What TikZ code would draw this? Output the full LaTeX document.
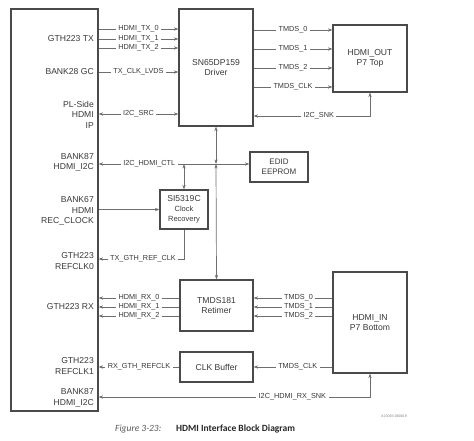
\documentclass[tikz,border=0pt]{standalone}
\usepackage{fontspec}
\setmainfont{Liberation Sans}
\newfontfamily\capfont{Carlito}
\usetikzlibrary{arrows.meta,calc}

\definecolor{linegray}{HTML}{6E6E6E}
\definecolor{boxgray}{HTML}{4A4A4A}
\definecolor{textgray}{HTML}{383838}

\tikzset{
  blk/.style={draw=boxgray, line width=1.1pt, align=center, inner sep=1pt,
    font=\fontsize{8.6}{10.5}\selectfont, text=textgray},
  sig/.style={draw=linegray, line width=0.7pt, ->},
  lbl/.style={fill=white, inner xsep=2.5pt, inner ysep=0.4pt,
    font=\fontsize{7.3}{8}\selectfont, text=textgray},
  side/.style={anchor=east, align=right, inner sep=0pt,
    font=\fontsize{8.6}{10.5}\selectfont, text=textgray},
}

\begin{document}
\begin{tikzpicture}[x=1pt, y=-1pt, >={Stealth[length=4.5pt,width=3.2pt]}]
    % 图幅
    \useasboundingbox (0,0) rectangle (474,441);

    % 各个模块
    \node[blk, minimum width=87pt, minimum height=402pt] (fpga) at (54.5,210) {};
    \node[blk, minimum width=74pt, minimum height=117pt] (drv) at (216,67.5) {SN65DP159\\Driver};
    \node[blk, minimum width=74pt, minimum height=67pt] (hout) at (370,58.5) {HDMI\_OUT\\P7 Top};
    \node[blk, minimum width=58pt, minimum height=30pt,
      font=\fontsize{8}{10.5}\selectfont] (edid) at (279,167) {EDID\\EEPROM};
    \node[blk, minimum width=48pt, minimum height=39pt] (si) at (184,209.5)
      {SI5319C\\[-1pt]{\fontsize{7.5}{10}\selectfont Clock}\\{\fontsize{7.5}{10}\selectfont Recovery}};
    \node[blk, minimum width=73pt, minimum height=51pt] (ret) at (216.5,305.5) {TMDS181\\Retimer};
    \node[blk, minimum width=73pt, minimum height=30pt] (clkbuf) at (216.5,367) {CLK Buffer};
    \node[blk, minimum width=74pt, minimum height=101pt] (hin) at (370,322.5) {HDMI\_IN\\P7 Bottom};

    % FPGA 侧的引脚标注
    \node[side] (gthtx) at (94,39) {GTH223 TX};
    \node[side] (bank28) at (94,72) {BANK28 GC};
    \node[side] (plside) at (94,114.5) {PL-Side\\HDMI\\IP};
    \node[side] (bank87a) at (94,162.5) {BANK87\\HDMI\_I2C};
    \node[side] (bank67) at (94,211) {BANK67\\HDMI\\REC\_CLOCK};
    \node[side] (refclk0) at (94,261) {GTH223\\REFCLK0};
    \node[side] (gthrx) at (94,307) {GTH223 RX};
    \node[side] (refclk1) at (94,366) {GTH223\\REFCLK1};
    \node[side] (bank87b) at (94,398) {BANK87\\HDMI\_I2C};

    % 发送通道
    \foreach \i/\y in {0/29, 1/39, 2/48} {
        \draw[sig] (fpga.east |- 0,\y) -- node[lbl] (tx\i) {HDMI\_TX\_\i} (drv.west |- 0,\y);
    }
    \draw[sig] (fpga.east |- 0,72) -- node[lbl] (txclk) {TX\_CLK\_LVDS} (drv.west |- 0,72);
    \draw[sig, <->] (fpga.east |- 0,114) -- node[lbl] (i2csrc) {I2C\_SRC} (drv.west |- 0,114);

    % 驱动器到 HDMI_OUT
    \foreach \i/\y in {0/30, 1/49, 2/68} {
        \draw[sig] (drv.east |- 0,\y) -- node[lbl] (tmo\i) {TMDS\_\i} (hout.west |- 0,\y);
    }
    \draw[sig] (drv.east |- 0,87) -- node[lbl] (tmoclk) {TMDS\_CLK} (hout.west |- 0,87);
    \draw[sig, <->] (drv.east |- 0,116) -| node[lbl, pos=0.28] (i2csnk) {I2C\_SNK} (hout.south);

    % I2C 总线
    \coordinate (jct) at (drv.south |- 0,164);
    \coordinate (sij) at (si.north |- 0,164);
    \draw[sig, <->] (fpga.east |- 0,164) -- node[lbl, pos=0.336] (i2cctl) {I2C\_HDMI\_CTL} (edid.west |- 0,164);
    \draw[sig, <->] (sij) -- (si.north);
    \draw[sig, <->] (jct) -- (drv.south);
    \draw[sig, <->] (jct) -- (ret.north);

    % 时钟恢复
    \draw[sig] (fpga.east |- si.west) -- (si.west);
    \draw[sig] (si.south) |- node[lbl, pos=0.74] (txref) {TX\_GTH\_REF\_CLK} (fpga.east |- 0,259);

    % 接收通道
    \foreach \i/\y in {0/298, 1/307, 2/316} {
        \draw[sig] (ret.west |- 0,\y) -- node[lbl] (rx\i) {HDMI\_RX\_\i} (fpga.east |- 0,\y);
        \draw[sig] (hin.west |- 0,\y) -- node[lbl, pos=0.43] (tmi\i) {TMDS\_\i} (ret.east |- 0,\y);
    }
    \draw[sig] (hin.west |- clkbuf.east) -- node[lbl, pos=0.44] (tmiclk) {TMDS\_CLK} (clkbuf.east);
    \draw[sig] (clkbuf.west) -- node[lbl] (rxref) {RX\_GTH\_REFCLK} (fpga.east |- clkbuf.west);
    \draw[sig, <->] (fpga.east |- 0,397) -| node[lbl, pos=0.357] (i2crx) {I2C\_HDMI\_RX\_SNK} (hin.south);

    % 图号与标题
    \node[font=\fontsize{3.6}{4}\selectfont, text=gray, inner sep=0pt] (docid) at (394,416) {X23093-080819};
    \node[anchor=base west, inner sep=0pt, font=\capfont\fontsize{9.5}{11}\selectfont\itshape,
      text=black!65] (capnum) at (115,431) {Figure 3-23:};
    \node[anchor=base west, inner sep=0pt, font=\capfont\fontsize{9.5}{11}\selectfont\bfseries,
      text=black!85] (capttl) at (176,431) {HDMI Interface Block Diagram};
\end{tikzpicture}
\end{document}
